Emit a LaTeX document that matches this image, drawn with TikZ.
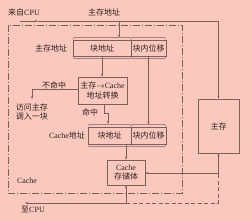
\documentclass[tikz,border=0pt]{standalone}
\usepackage{fontspec}
\setmainfont{Liberation Serif}
\newfontfamily\cjk{Noto Sans CJK SC}
\usetikzlibrary{arrows.meta}
\definecolor{bg}{RGB}{250,200,188}
\definecolor{ln}{RGB}{125,95,90}
\definecolor{tx}{RGB}{50,34,34}
\newcommand\cellbraces[1]{%
  \draw[brace] ([xshift=0.3pt]#1.north west) -- ([xshift=0.3pt,yshift=2.3pt]#1.north west) -- ([xshift=-0.3pt,yshift=2.3pt]#1.north east) -- ([xshift=-0.3pt]#1.north east);
  \draw[brace] ([xshift=0.3pt]#1.south west) -- ([xshift=0.3pt,yshift=-2.3pt]#1.south west) -- ([xshift=-0.3pt,yshift=-2.3pt]#1.south east) -- ([xshift=-0.3pt]#1.south east);}
\begin{document}
\begin{tikzpicture}[x=1pt,y=-1pt,
  font=\fontsize{8}{9.5}\selectfont,
  box/.style={draw=ln, line width=0.6pt, inner sep=0pt, text=tx},
  lbl/.style={inner sep=0pt, text=tx},
  arr/.style={draw=ln, line width=0.5pt, -{Stealth[length=3pt,width=2.2pt]}},
  plain/.style={draw=ln, line width=0.5pt},
  dsh/.style={draw=ln, line width=0.5pt, dash pattern=on 4pt off 2.5pt},
  cachebox/.style={draw=ln, line width=0.5pt, dash pattern=on 7pt off 2pt on 1pt off 2pt},
  brace/.style={draw=ln, line width=0.4pt, rounded corners=1.2pt}]
\fill[bg] (0,0) rectangle (252,221);
\useasboundingbox (0,0) rectangle (252,221);

% cache region
\draw[cachebox] (8,25) rectangle (182,193);

% labels
\node[lbl] (fromcpu) at (24,12) {{\cjk 来自}CPU};
\node[lbl] (maddr) at (104,12) {\cjk 主存地址};
\node[lbl] (maddrl) at (51,48) {\cjk 主存地址};
\node[lbl] (miss) at (54,85) {\cjk 不命中};
\node[lbl, align=center] (fetch) at (32,112) {{\cjk 访问主存}\\{\cjk 调入一块}};
\node[lbl] (hit) at (90,112) {\cjk 命中};
\node[lbl] (caddrl) at (67,135.5) {Cache{\cjk 地址}};
\node[lbl] (cachelbl) at (27,181) {Cache};
\node[lbl] (tocpu) at (33,210) {{\cjk 至}CPU};

% boxes
\node[box, minimum width=58pt, minimum height=16pt] (mab) at (102,48) {\cjk 块地址};
\node[box, minimum width=35pt, minimum height=16pt] (mao) at (148.5,48) {\cjk 块内位移};
\node[box, minimum width=49pt, minimum height=27pt, align=center] (conv) at (102.5,90.5) {{\cjk 主存}$\rightarrow$Cache\\{\cjk 地址转换}};
\node[box, minimum width=43pt, minimum height=17pt] (cab) at (109.5,135.5) {\cjk 块地址};
\node[box, minimum width=35pt, minimum height=17pt] (cao) at (148.5,135.5) {\cjk 块内位移};
\node[box, minimum width=38pt, minimum height=25pt, align=center] (store) at (126,172.5) {Cache\\{\cjk 存储体}};
\node[box, minimum width=41pt, minimum height=54pt] (mem) at (218.5,126) {\cjk 主存};

\cellbraces{mab}
\cellbraces{mao}
\cellbraces{cab}
\cellbraces{cao}

% coordinates
\coordinate (a0) at (20,21);
\coordinate (a1) at (38,21);
\coordinate (a2) at (218.5,21);
\coordinate (b0) at (119,21);
\coordinate (b1) at (119,37.5);
\coordinate (m1) at (32,89);
\coordinate (m2) at (32,99);
\coordinate (h1) at (104,113);
\coordinate (h2) at (108,113);
\coordinate (h3) at (108,124);
\coordinate (s1) at (126,203);
\coordinate (c1) at (25,203);
\coordinate (d1) at (218.5,203);
\coordinate (d2) at (218.5,173);

% connectors
\draw[arr] (a0) -- (a1);
\draw[arr] (a1) -- (a2) -- (mem.north);
\draw[arr] (b0) -- (b1);
\draw[arr] (mab.south) -- (mab.south |- conv.north);
\draw[arr] (mao.south) -- ([yshift=2.3pt]cao.north);
\draw[arr] (conv.west |- m1) -- (m1) -- (m2);
\draw[arr] (conv.south -| h1) -- (h1) -- (h2) -- (h3);
\draw[arr] (cab.south -| store.north) -- (store.north);
\draw[arr] (s1) -- (store.south);
\draw[arr] (s1) -- (c1);
\draw[dsh] (s1) -- (d1) -- (d2);
\draw[arr] (d2) -- (mem.south);
\draw[arr] (d2) -- (store.east |- d2);
\end{tikzpicture}
\end{document}
